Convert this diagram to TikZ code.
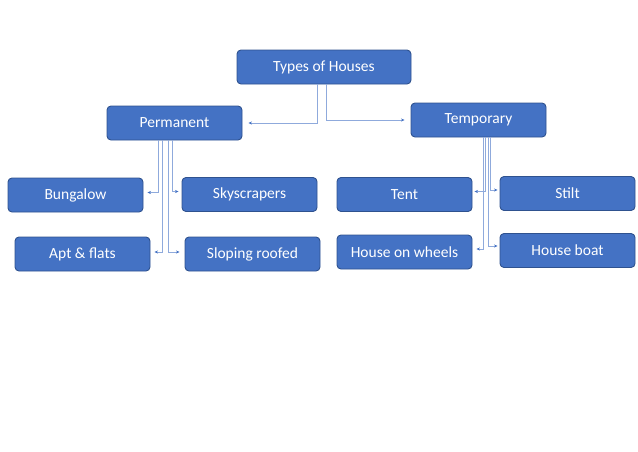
\documentclass[tikz,border=0pt]{standalone}
\usepackage{fontspec}
\setmainfont{Carlito}
\usetikzlibrary{arrows.meta}

\definecolor{boxblue}{HTML}{4472C4}
\definecolor{boxedge}{HTML}{2F528F}
\definecolor{linkblue}{HTML}{8FAADC}

\tikzset{
  house/.style={draw=boxedge, fill=boxblue, rounded corners=4pt, line width=0.9pt,
    minimum width=135pt, minimum height=34pt, text=white, font=\fontsize{15.5}{18}\selectfont},
  link/.style={draw=linkblue, line width=0.7pt,
    -{Stealth[length=3.5pt,width=3pt,color=boxblue]}, shorten >=6pt}
}

\begin{document}
\begin{tikzpicture}[x=1pt,y=-1pt]
\useasboundingbox (0,0) rectangle (638,451);

% Top level
\node[house, minimum width=174pt] (root) at (324,67) {Types of Houses};

\node[house] (perm) at (174.5,123) {Permanent};
\node[house] (temp) at (478.5,120) {Temporary};

\draw[link] ([xshift=-7pt]root.south) |- (perm.east);
\draw[link] ([xshift=2pt]root.south) |- (temp.west);

% Permanent
\node[house] (bung) at (75.5,195) {Bungalow};
\node[house] (sky) at (249.5,194.5) {Skyscrapers};
\node[house] (apt) at (82.5,254) {Apt \& flats};
\node[house] (slope) at (252.5,254) {Sloping roofed};

\draw[link, shorten >=4pt] ([xshift=-16.5pt]perm.south) |- ([yshift=2.5pt]bung.east);
\draw[link, shorten >=4pt] ([xshift=-12.5pt]perm.south) |- ([yshift=2pt]apt.east);
\draw[link, shorten >=3pt] ([xshift=-2.5pt]perm.south) |- ([yshift=3pt]sky.west);
\draw[link, shorten >=5pt] ([xshift=-6.5pt]perm.south) |- ([yshift=2pt]slope.west);

% Temporary
\node[house] (tent) at (404.5,194.5) {Tent};
\node[house] (stilt) at (567.5,193.5) {Stilt};
\node[house] (wheels) at (404.5,252) {House on wheels};
\node[house] (boat) at (567.5,250.5) {House boat};

\draw[link, shorten >=2pt] ([xshift=6.5pt]temp.south) |- ([yshift=3pt]tent.east);
\draw[link, shorten >=4pt] ([xshift=4.5pt]temp.south) |- ([yshift=3pt]wheels.east);
\draw[link, shorten >=2pt] ([xshift=11.5pt]temp.south) |- ([yshift=3.5pt]stilt.west);
\draw[link, shorten >=2pt] ([xshift=9.5pt]temp.south) |- ([yshift=4.5pt]boat.west);

\end{tikzpicture}
\end{document}
